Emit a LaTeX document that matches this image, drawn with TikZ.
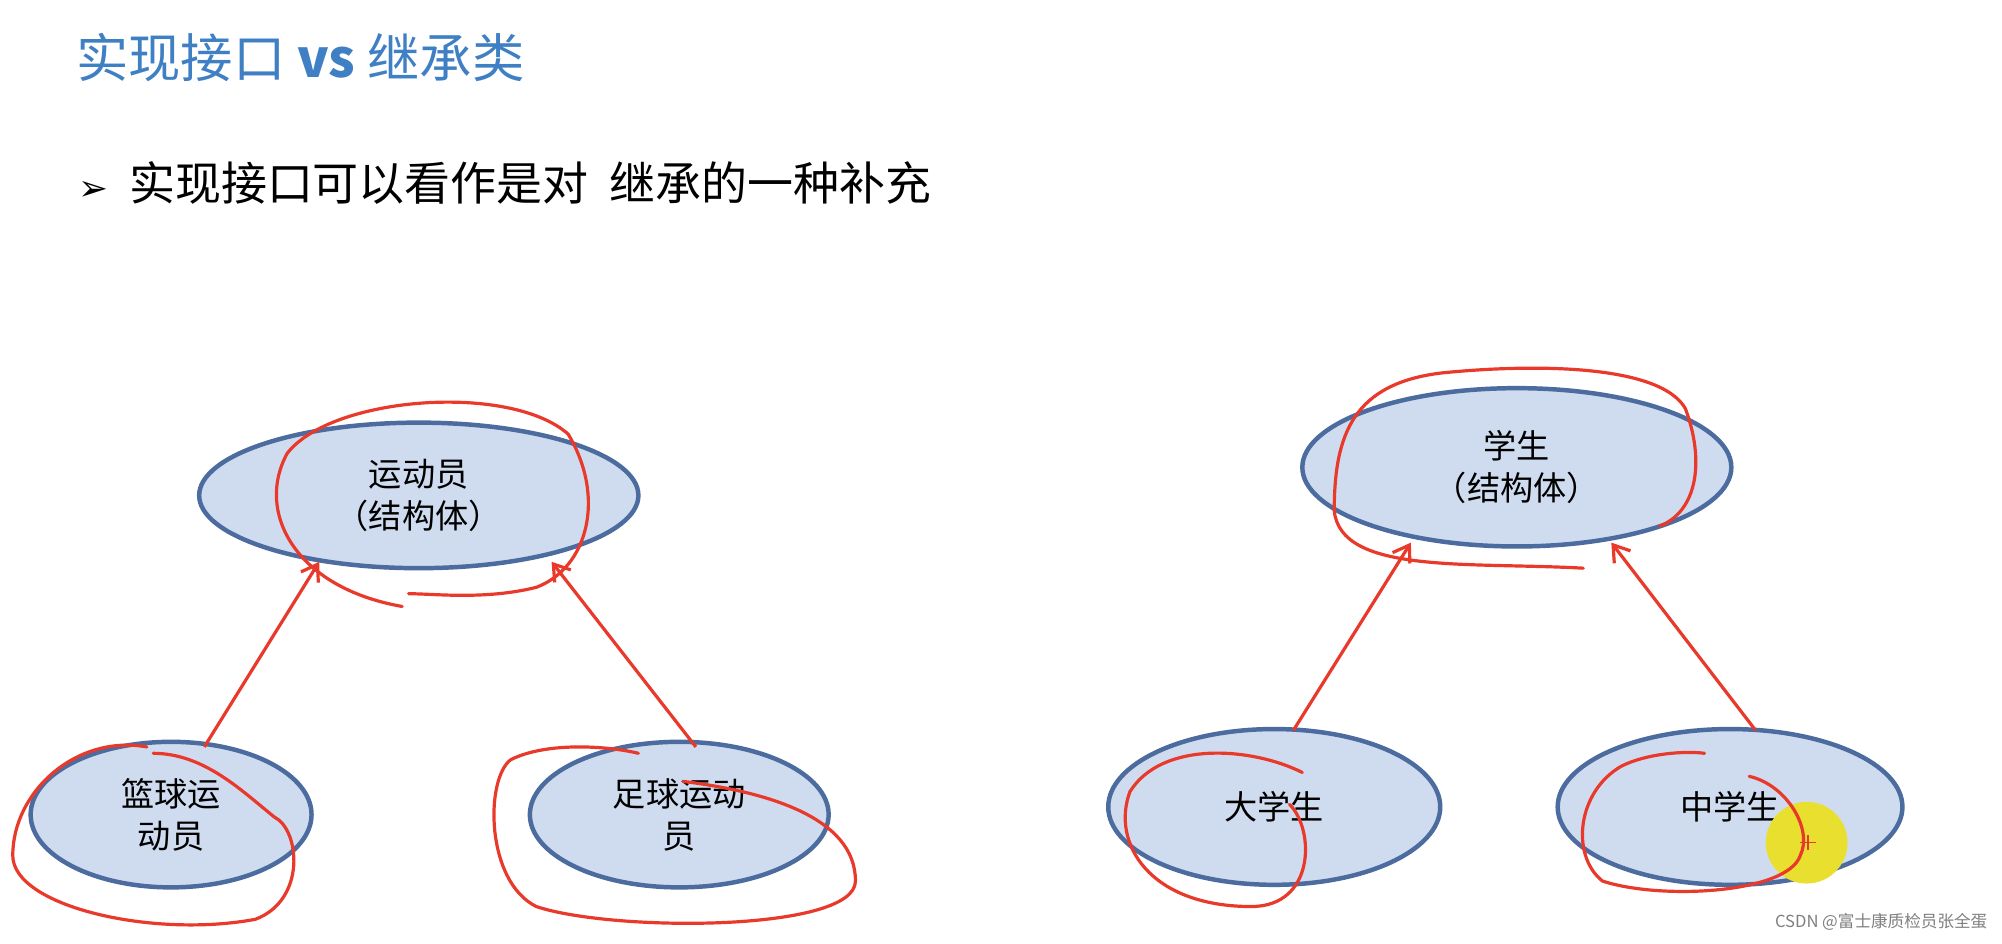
\documentclass[tikz,border=0pt]{standalone}
\usepackage{fontspec}
\setmainfont{Noto Sans CJK SC}
\usetikzlibrary{arrows.meta}
\begin{document}
\begin{tikzpicture}[x=1pt,y=-1pt,
  ell/.style={draw=ellb,fill=ellf,line width=3.5pt},
  lbl/.style={font=\fontsize{26}{33}\selectfont,align=center},
  arr/.style={draw=redl,line width=2.5pt,-{Straight Barb[length=12pt,width=16pt,line width=2.5pt]}},
  scrib/.style={draw=redl,line width=2.5pt,line cap=round}]
\definecolor{ellb}{HTML}{4C6B9E}
\definecolor{ellf}{HTML}{CFDCEF}
\definecolor{redl}{HTML}{E8392A}
\definecolor{titleb}{HTML}{3F7FC4}
\useasboundingbox[fill=white] (0,0) rectangle (1568,739);
\node[anchor=west,text=titleb,font=\fontsize{41}{48}\selectfont] (title) at (56,45) {实现接口 \textbf{vs} 继承类};
\node[anchor=west,font=\fontsize{36}{44}\selectfont] (bul) at (58,143) {{\fontspec{DejaVu Sans}\fontsize{28}{30}\selectfont➢}\ \ 实现接口可以看作是对\ \ 继承的一种补充};
\draw[ell] (328,388) ellipse [x radius=172,y radius=57];
\node[lbl] (yd) at (328,388) {运动员\\（结构体）};
\draw[ell] (134,638) ellipse [x radius=110,y radius=57];
\node[lbl] (lq) at (134,638) {篮球运\\动员};
\draw[ell] (532,638) ellipse [x radius=117,y radius=57];
\node[lbl] (zq) at (532,638) {足球运动\\员};
\draw[ell] (1188,366) ellipse [x radius=168,y radius=62];
\node[lbl] (xs) at (1188,366) {学生\\（结构体）};
\draw[ell] (998,632) ellipse [x radius=130,y radius=61];
\node[lbl] (dx) at (998,632) {大学生};
\draw[ell] (1355,632) ellipse [x radius=135,y radius=61];
\node[lbl] (zx) at (1355,632) {中学生};
\coordinate (a1) at (160,585); \coordinate (b1) at (250,440);
\coordinate (a2) at (545,585); \coordinate (b2) at (432,440);
\coordinate (a3) at (1013,572); \coordinate (b3) at (1105,425);
\coordinate (a4) at (1375,572); \coordinate (b4) at (1262,425);
\draw[arr] (a1) -- (b1);
\draw[arr] (a2) -- (b2);
\draw[arr] (a3) -- (b3);
\draw[arr] (a4) -- (b4);
% scribbles
\draw[scrib] (315,475) .. controls (230,460) and (200,400) .. (225,355) .. controls (260,310) and (400,300) .. (445,340) .. controls (475,390) and (460,445) .. (420,460) .. controls (380,470) and (340,465) .. (320,465);
\draw[scrib] (115,585) .. controls (60,575) and (10,620) .. (10,670) .. controls (10,710) and (120,735) .. (200,720) .. controls (240,705) and (235,650) .. (215,640) .. controls (190,620) and (160,590) .. (120,590);
\draw[scrib] (535,612) .. controls (600,620) and (670,640) .. (670,690) .. controls (670,730) and (480,730) .. (420,710) .. controls (380,690) and (380,610) .. (400,595) .. controls (430,580) and (480,585) .. (500,590);
\draw[scrib] (1240,445) .. controls (1150,440) and (1050,450) .. (1045,400) .. controls (1045,340) and (1060,300) .. (1130,292) .. controls (1200,285) and (1300,285) .. (1320,320) .. controls (1335,360) and (1330,400) .. (1300,412);
\draw[scrib] (1020,605) .. controls (980,585) and (910,580) .. (885,620) .. controls (870,660) and (900,710) .. (980,710) .. controls (1030,710) and (1030,650) .. (1010,630);
\fill[yellow!75!olive!80] (1415,660) circle (32);
\draw[scrib] (1370,608) .. controls (1400,615) and (1420,650) .. (1410,670) .. controls (1400,700) and (1300,705) .. (1255,690) .. controls (1230,670) and (1235,620) .. (1270,600) .. controls (1290,590) and (1320,588) .. (1335,590);
\draw[redl,line width=1.2pt] (1410,660) -- (1422,660) (1416,654) -- (1416,666);
\node[anchor=east,text=gray,font=\fontsize{13}{16}\selectfont] (wm) at (1560,722) {CSDN @富士康质检员张全蛋};
\end{tikzpicture}
\end{document}
